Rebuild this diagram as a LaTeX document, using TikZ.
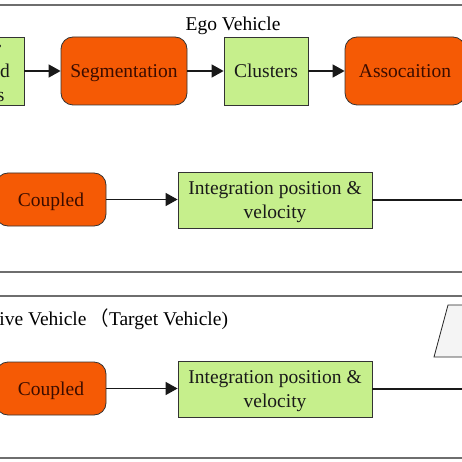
\documentclass[tikz,border=0pt]{standalone}
\usepackage{fontspec}
\setmainfont{Liberation Serif}
\newfontfamily\cjk{Noto Sans CJK SC}
\usetikzlibrary{arrows.meta}
\definecolor{orfill}{HTML}{F55A05}
\definecolor{grfill}{HTML}{C6EF8C}
\definecolor{frameg}{HTML}{6E6E6E}
\definecolor{ortext}{HTML}{3A0C00}
\definecolor{paral}{HTML}{F4F4F4}
\tikzset{
  every node/.style={font=\fontsize{19.5}{23.5}\selectfont, inner sep=0pt, text depth=0pt},
  procbox/.style={draw=black!80, line width=0.8pt, fill=grfill, align=center, text=black!90},
  actbox/.style={draw=black!80, line width=0.8pt, fill=orfill, rounded corners=12pt, align=center, text=ortext},
  flow/.style={line width=1.4pt, draw=black!90, -{Triangle[length=12pt,width=13pt]}},
  plain/.style={line width=1.4pt, draw=black!90},
  sep/.style={line width=1.4pt, draw=frameg},
}
\begin{document}
\begin{tikzpicture}[x=1pt,y=-1pt]
\useasboundingbox (0,0) rectangle (462,462);
\clip (0,0) rectangle (462,462);
% separators
\draw[sep] (-10,5) -- (472,5);
\draw[sep] (-10,272) -- (472,272);
\draw[sep] (-10,296) -- (472,296);
\draw[sep] (-10,458) -- (472,458);
% labels
\node (ego) at (233,24) {Ego Vehicle};
\node[anchor=base west] (rel) at (-42,325) {Relative Vehicle\hspace{3pt}{\cjk （}Target Vehicle)};
% row 1
\node[procbox, minimum width=88pt, minimum height=68pt] (filt) at (-20,71) {Filter\\Ground\\Points};
\node[actbox, minimum width=126pt, minimum height=68pt] (seg) at (124,71) {Segmentation};
\node[procbox, minimum width=84pt, minimum height=68pt] (clu) at (266,71) {Clusters};
\node[actbox, minimum width=120pt, minimum height=68pt] (ass) at (405,71) {Assocaition};
\draw[flow] (filt) -- (seg);
\draw[flow] (seg) -- (clu);
\draw[flow] (clu) -- (ass);
% row 2
\node[actbox, minimum width=110pt, minimum height=53pt] (cp1) at (51,199.5) {Coupled};
\node[procbox, minimum width=194pt, minimum height=56pt] (ip1) at (275,200) {Integration position \&\\velocity};
\coordinate (out1) at (475,200);
\draw[flow] (cp1.east) -- (ip1.west |- cp1.east);
\draw[plain] (ip1.east) -- (out1);
% row 3
\node[actbox, minimum width=110pt, minimum height=53pt] (cp2) at (51,388.5) {Coupled};
\node[procbox, minimum width=194pt, minimum height=56pt] (ip2) at (275,389) {Integration position \&\\velocity};
\coordinate (out2) at (475,389);
\draw[flow] (cp2.east) -- (ip2.west |- cp2.east);
\draw[plain] (ip2.east) -- (out2);
% parallelogram
\draw[fill=paral, draw=black!85, line width=0.8pt] (448,305) -- (490,305) -- (476,357) -- (434,357) -- cycle;
\end{tikzpicture}
\end{document}
